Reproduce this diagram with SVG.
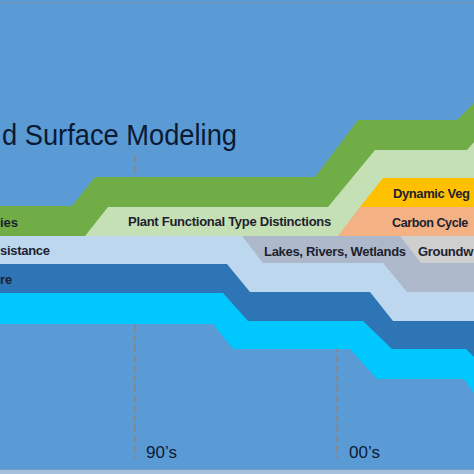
<svg xmlns="http://www.w3.org/2000/svg" width="474" height="474" viewBox="0 0 474 474">
<style>
.lbl{font-family:"Liberation Sans",Arial,sans-serif;font-weight:bold;font-size:13px;fill:#1d2130}
.title{font-family:"Liberation Sans",Arial,sans-serif;font-size:29px;fill:#0b1a33}
.yr{font-family:"Liberation Sans",Arial,sans-serif;font-size:17px;fill:#0b1a33}
.guide{stroke:#8a8580;stroke-width:1.6;stroke-dasharray:7 3;fill:none}
</style>
<rect x="0" y="0" width="474" height="474" fill="#5b9bd5"/>
<rect x="0" y="470" width="474" height="4" fill="#a3bfdc"/>
<line x1="0" y1="2.5" x2="474" y2="2.5" stroke="#7090b4" stroke-width="1"/>
<line x1="0" y1="469.5" x2="474" y2="469.5" stroke="#7a9cc0" stroke-width="1"/>

<g id="title">
<text class="title" x="2" y="145" textLength="235" lengthAdjust="spacingAndGlyphs">d Surface Modeling</text>
</g>

<g id="connectors">
<line class="guide" x1="135" y1="155" x2="135" y2="458"/>
<line class="guide" x1="337" y1="165" x2="337" y2="458"/>
</g>

<g id="band-green">
<polygon fill="#70ad47" points="0,206 72,206 95,177 315,177 358,120 457,120 474,103 474,240 0,240"/>
<text class="lbl" x="0" y="227">ies</text>
</g>
<g id="band-pft">
<polygon fill="#c5e0b4" points="85,236 108,207 328,207 375,150 467,150 474,142 474,240 85,240"/>
<text class="lbl" x="128" y="226" style="letter-spacing:-0.27px">Plant Functional Type Distinctions</text>
</g>
<g id="band-dynveg">
<polygon fill="#ffc000" points="383,178 474,178 474,207 360,207"/>
<text class="lbl" x="393" y="198" style="letter-spacing:-0.4px">Dynamic Veg</text>
</g>
<g id="band-carbon">
<polygon fill="#f4b183" points="360,207 474,207 474,236 338,236"/>
<text class="lbl" x="392" y="227" style="font-size:12.6px;letter-spacing:-0.45px">Carbon Cycle</text>
</g>
<g id="band-resistance">
<polygon fill="#bdd7ee" points="0,236 474,236 474,393 464,379 377,379 350,349 233,349 213,324 0,324"/>
<text class="lbl" x="0" y="255" style="letter-spacing:-0.3px">sistance</text>
</g>
<g id="band-lakes">
<polygon fill="#adb9ca" points="242,236 474,236 474,292 407,292 383,263 263,263"/>
<text class="lbl" x="264" y="256" style="letter-spacing:-0.3px">Lakes, Rivers, Wetlands</text>
</g>
<g id="band-groundwater">
<polygon fill="#cfcfd0" points="400,236 474,236 474,263 421,263"/>
<text class="lbl" x="418" y="256" style="letter-spacing:-0.3px">Groundw</text>
</g>
<g id="band-darkblue">
<polygon fill="#2e75b6" points="0,264 227,264 250,292 370,292 393,321 474,321 474,393 464,379 377,379 350,349 233,349 213,324 0,324"/>
<text class="lbl" x="0" y="284">re</text>
</g>
<g id="band-cyan">
<polygon fill="#00c8ff" points="0,293 223,293 248,321 363,321 392,349 466,349 474,357 474,393 464,379 377,379 350,349 233,349 213,324 0,324"/>
</g>

<g id="years">
<text class="yr" x="146" y="458">90’s</text>
<text class="yr" x="349" y="458">00’s</text>
</g>
</svg>
